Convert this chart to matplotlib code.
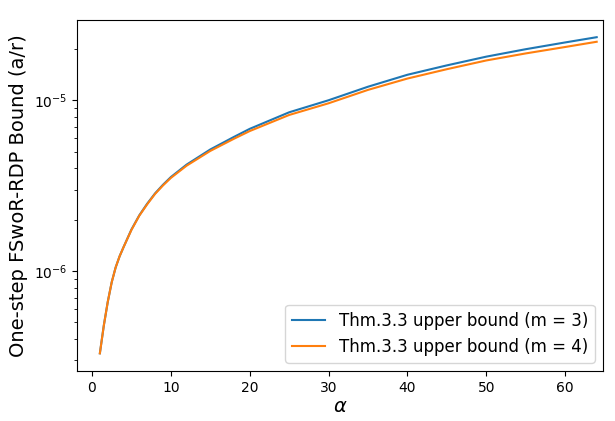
import matplotlib
matplotlib.use("Agg")
import matplotlib.pyplot as plt
import numpy as np

alpha = [1, 1.5, 2, 2.5, 3, 3.5, 4, 5, 6, 7, 8, 9, 10, 12, 15, 18, 20, 25, 30, 35, 40, 45, 50, 55, 60, 64]
m3 = [3.3e-7, 4.8e-7, 6.6e-7, 8.6e-7, 1.05e-6, 1.22e-6, 1.38e-6, 1.75e-6, 2.12e-6, 2.48e-6, 2.85e-6, 3.2e-6, 3.55e-6, 4.2e-6, 5.15e-6, 6.1e-6, 6.8e-6, 8.5e-6, 1.0e-5, 1.2e-5, 1.41e-5, 1.6e-5, 1.8e-5, 1.99e-5, 2.18e-5, 2.34e-5]
m4 = [3.3e-7, 4.8e-7, 6.6e-7, 8.6e-7, 1.05e-6, 1.22e-6, 1.38e-6, 1.74e-6, 2.11e-6, 2.46e-6, 2.83e-6, 3.17e-6, 3.51e-6, 4.14e-6, 5.05e-6, 5.95e-6, 6.6e-6, 8.2e-6, 9.6e-6, 1.15e-5, 1.34e-5, 1.52e-5, 1.71e-5, 1.88e-5, 2.05e-5, 2.2e-5]

fig = plt.figure(figsize=(6.15, 4.21), dpi=100)
ax = fig.add_axes([77/615, 1-371/421, (603-77)/615, (371-20)/421])
ax.plot(alpha, m3, color="#1f77b4", lw=1.5, label="Thm.3.3 upper bound (m = 3)")
ax.plot(alpha, m4, color="#ff7f0e", lw=1.5, label="Thm.3.3 upper bound (m = 4)")
ax.set_yscale("log")
ax.set_xlim(-1.9, 64.8)
ax.set_ylim(2.6e-7, 2.95e-5)
ax.set_xlabel(r"$\alpha$", fontsize=14, labelpad=2)
ax.set_ylabel("One-step FSwoR-RDP Bound (a/r)", fontsize=14)
ax.legend(loc="lower right", fontsize=12)
fig.savefig("out.png", dpi=100)
